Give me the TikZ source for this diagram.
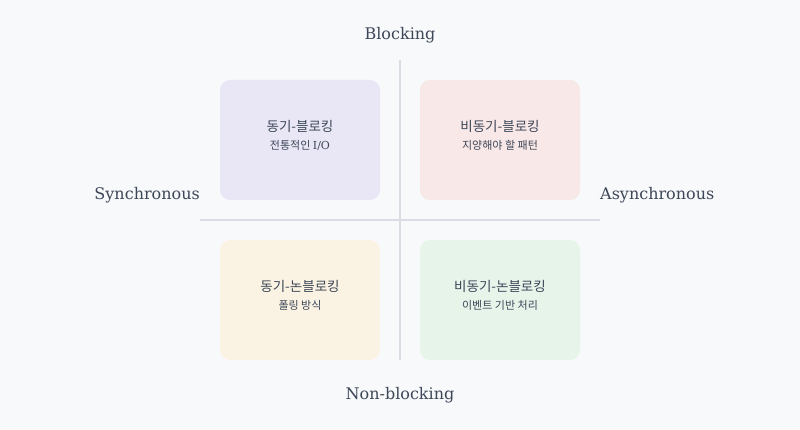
\documentclass[tikz,border=0pt]{standalone}
\usepackage{fontspec}
\setmainfont{DejaVu Serif}
\newfontfamily\cjk{Noto Sans CJK KR}
\definecolor{fond}{HTML}{F8F9FB}
\definecolor{trait}{HTML}{DADDE3}
\definecolor{encre}{HTML}{3D4758}
\definecolor{mauve}{HTML}{E9E7F6}
\definecolor{rose}{HTML}{F9E8E8}
\definecolor{creme}{HTML}{FAF2E2}
\definecolor{vert}{HTML}{E6F4EA}
\begin{document}
\begin{tikzpicture}[x=1pt,y=-1pt,
  quad/.style={minimum width=160pt, minimum height=120pt, rounded corners=10pt, inner sep=0},
  titre/.style={font=\cjk\fontsize{13.5}{16}\selectfont, text=encre},
  sous/.style={font=\cjk\fontsize{11}{13}\selectfont, text=encre},
  axe/.style={font=\fontsize{16}{19}\selectfont, text=encre}]
\fill[fond] (0,0) rectangle (800,430);
\coordinate (haut) at (400,60);
\coordinate (bas) at (400,360);
\coordinate (gauche) at (200,220);
\coordinate (droite) at (600,220);
\draw[trait, line width=1.2pt] (haut) -- (bas);
\draw[trait, line width=1.2pt] (gauche) -- (droite);
\foreach \i/\x/\y/\c/\t/\s in {0/300/140/mauve/동기-블로킹/{전통적인 {\rmfamily I/O}}, 1/500/140/rose/비동기-블로킹/지양해야 할 패턴,
    2/300/300/creme/동기-논블로킹/폴링 방식, 3/500/300/vert/비동기-논블로킹/이벤트 기반 처리}
  {\node[quad, fill=\c] (q\i) at (\x,\y) {};
  \node[titre] (t\i) at ([yshift=14pt]q\i.center) {\t};
  \node[sous] (s\i) at ([yshift=-5pt]q\i.center) {\s};};
\node[axe] (blk) at (400,35.5) {Blocking};
\node[axe] (nblk) at (400,395.5) {Non-blocking};
\node[axe, anchor=east, inner sep=0] (sync) at (200,195.5) {Synchronous};
\node[axe, anchor=west, inner sep=0] (async) at (600,195.5) {Asynchronous};
\end{tikzpicture}
\end{document}
